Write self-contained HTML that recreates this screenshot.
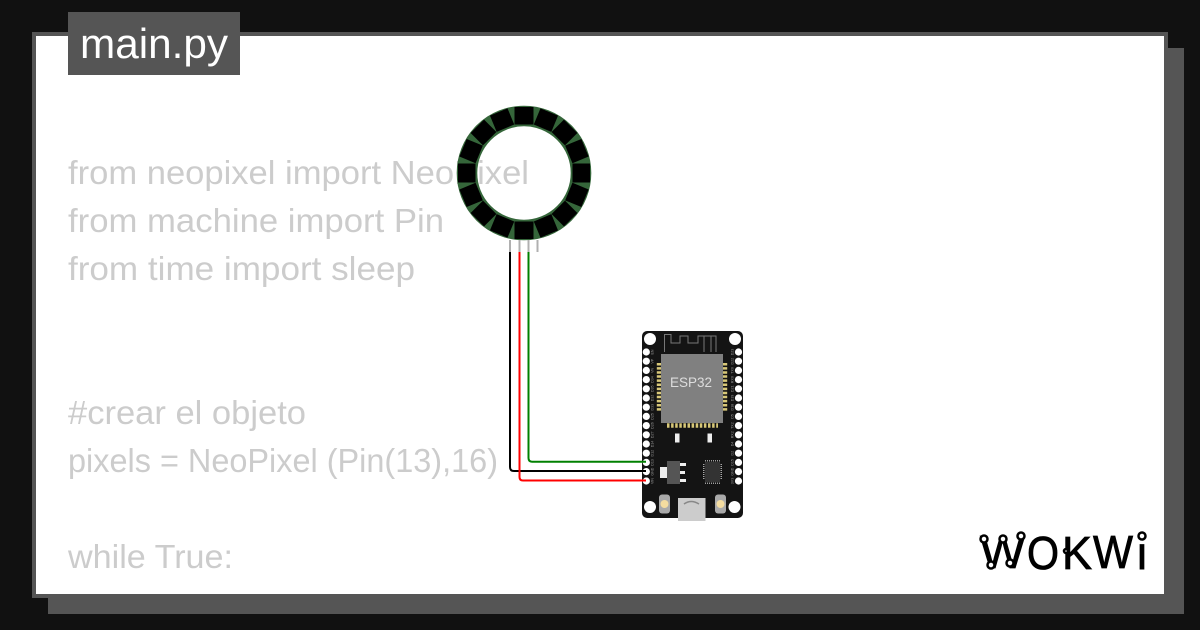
<!DOCTYPE html>
<html><head><meta charset="utf-8"><style>
html,body{margin:0;padding:0;background:#111;width:1200px;height:630px;overflow:hidden}
svg{display:block}
</style></head><body>
<svg width="1200" height="630" viewBox="0 0 1200 630" xmlns="http://www.w3.org/2000/svg" font-family="'Liberation Sans',sans-serif">
<rect width="1200" height="630" fill="#111"/>
<rect x="48" y="48" width="1136" height="566" fill="#555"/>
<rect x="34" y="34" width="1132" height="562" fill="#fff" stroke="#555" stroke-width="4"/>
<rect x="68" y="12" width="172" height="63" fill="#555"/>
<text x="80" y="58" font-size="42" fill="#fff" textLength="148" lengthAdjust="spacingAndGlyphs">main.py</text>
<g font-size="33.6" fill="#ccc">
<text x="68" y="184" textLength="461" lengthAdjust="spacingAndGlyphs">from neopixel import NeoPixel</text>
<text x="68" y="232" textLength="376" lengthAdjust="spacingAndGlyphs">from machine import Pin</text>
<text x="68" y="280" textLength="347" lengthAdjust="spacingAndGlyphs">from time import sleep</text>
<text x="68" y="424" textLength="238" lengthAdjust="spacingAndGlyphs">#crear el objeto</text>
<text x="68" y="472" textLength="430" lengthAdjust="spacingAndGlyphs">pixels = NeoPixel (Pin(13),16)</text>
<text x="68" y="568" textLength="165" lengthAdjust="spacingAndGlyphs">while True:</text>
</g>
<!-- ring -->
<circle cx="524" cy="173" r="57" fill="none" stroke="#35663a" stroke-width="20.6"/>
<g fill="#000">
<rect x="514.5" y="107" width="19" height="17.5" transform="rotate(0 524 173)"/>
<rect x="514.5" y="107" width="19" height="17.5" transform="rotate(22.5 524 173)"/>
<rect x="514.5" y="107" width="19" height="17.5" transform="rotate(45 524 173)"/>
<rect x="514.5" y="107" width="19" height="17.5" transform="rotate(67.5 524 173)"/>
<rect x="514.5" y="107" width="19" height="17.5" transform="rotate(90 524 173)"/>
<rect x="514.5" y="107" width="19" height="17.5" transform="rotate(112.5 524 173)"/>
<rect x="514.5" y="107" width="19" height="17.5" transform="rotate(135 524 173)"/>
<rect x="514.5" y="107" width="19" height="17.5" transform="rotate(157.5 524 173)"/>
<rect x="514.5" y="107" width="19" height="17.5" transform="rotate(180 524 173)"/>
<rect x="514.5" y="107" width="19" height="17.5" transform="rotate(202.5 524 173)"/>
<rect x="514.5" y="107" width="19" height="17.5" transform="rotate(225 524 173)"/>
<rect x="514.5" y="107" width="19" height="17.5" transform="rotate(247.5 524 173)"/>
<rect x="514.5" y="107" width="19" height="17.5" transform="rotate(270 524 173)"/>
<rect x="514.5" y="107" width="19" height="17.5" transform="rotate(292.5 524 173)"/>
<rect x="514.5" y="107" width="19" height="17.5" transform="rotate(315 524 173)"/>
<rect x="514.5" y="107" width="19" height="17.5" transform="rotate(337.5 524 173)"/>
</g>
<g stroke="#b0b0b0" stroke-width="2">
<path d="M510 240V252M519.5 240V252M528.5 240V252M537.5 240V252"/>
</g>
<!-- board -->
<rect x="642" y="331" width="101" height="187" rx="5" fill="#141414"/>
<path d="M664.5 352V334.5H671V343H680V336H688V343H698V336H704V352M704 336H711V352M711 336H716V352" fill="none" stroke="#777" stroke-width="1"/>
<g fill="#fff">
<circle cx="650" cy="339" r="6"/><circle cx="735" cy="339" r="6"/>
<circle cx="650" cy="507" r="6"/><circle cx="734.5" cy="507" r="6"/>
<circle cx="646.3" cy="352" r="3.6"/><circle cx="646.3" cy="361.2" r="3.6"/><circle cx="646.3" cy="370.4" r="3.6"/><circle cx="646.3" cy="379.6" r="3.6"/><circle cx="646.3" cy="388.8" r="3.6"/><circle cx="646.3" cy="398" r="3.6"/><circle cx="646.3" cy="407.2" r="3.6"/><circle cx="646.3" cy="416.4" r="3.6"/><circle cx="646.3" cy="425.6" r="3.6"/><circle cx="646.3" cy="434.8" r="3.6"/><circle cx="646.3" cy="444" r="3.6"/><circle cx="646.3" cy="453.2" r="3.6"/><circle cx="646.3" cy="462.4" r="3.6"/><circle cx="646.3" cy="471.6" r="3.6"/><circle cx="646.3" cy="481" r="3.6"/>
<circle cx="738.5" cy="352" r="3.6"/><circle cx="738.5" cy="361.2" r="3.6"/><circle cx="738.5" cy="370.4" r="3.6"/><circle cx="738.5" cy="379.6" r="3.6"/><circle cx="738.5" cy="388.8" r="3.6"/><circle cx="738.5" cy="398" r="3.6"/><circle cx="738.5" cy="407.2" r="3.6"/><circle cx="738.5" cy="416.4" r="3.6"/><circle cx="738.5" cy="425.6" r="3.6"/><circle cx="738.5" cy="434.8" r="3.6"/><circle cx="738.5" cy="444" r="3.6"/><circle cx="738.5" cy="453.2" r="3.6"/><circle cx="738.5" cy="462.4" r="3.6"/><circle cx="738.5" cy="471.6" r="3.6"/><circle cx="738.5" cy="481" r="3.6"/>
</g>
<g font-size="3.6" fill="#999" text-anchor="middle">
<text transform="translate(653.5 352) rotate(-90)">EN</text><text transform="translate(653.5 361.2) rotate(-90)">VP</text><text transform="translate(653.5 370.4) rotate(-90)">VN</text><text transform="translate(653.5 379.6) rotate(-90)">D34</text><text transform="translate(653.5 388.8) rotate(-90)">D35</text><text transform="translate(653.5 398) rotate(-90)">D32</text><text transform="translate(653.5 407.2) rotate(-90)">D33</text><text transform="translate(653.5 416.4) rotate(-90)">D25</text><text transform="translate(653.5 425.6) rotate(-90)">D26</text><text transform="translate(653.5 434.8) rotate(-90)">D27</text><text transform="translate(653.5 444) rotate(-90)">D14</text><text transform="translate(653.5 453.2) rotate(-90)">D12</text><text transform="translate(653.5 462.4) rotate(-90)">D13</text><text transform="translate(653.5 471.6) rotate(-90)">GND</text><text transform="translate(653.5 481) rotate(-90)">VIN</text>
<text transform="translate(733.5 352) rotate(-90)">D23</text><text transform="translate(733.5 361.2) rotate(-90)">D22</text><text transform="translate(733.5 370.4) rotate(-90)">TX0</text><text transform="translate(733.5 379.6) rotate(-90)">RX0</text><text transform="translate(733.5 388.8) rotate(-90)">D21</text><text transform="translate(733.5 398) rotate(-90)">D19</text><text transform="translate(733.5 407.2) rotate(-90)">D18</text><text transform="translate(733.5 416.4) rotate(-90)">D5</text><text transform="translate(733.5 425.6) rotate(-90)">TX2</text><text transform="translate(733.5 434.8) rotate(-90)">RX2</text><text transform="translate(733.5 444) rotate(-90)">D4</text><text transform="translate(733.5 453.2) rotate(-90)">D2</text><text transform="translate(733.5 462.4) rotate(-90)">D15</text><text transform="translate(733.5 471.6) rotate(-90)">GND</text><text transform="translate(733.5 481) rotate(-90)">3V3</text>
</g>
<path d="M659 363V412" stroke="#d8c878" stroke-width="4.4" stroke-dasharray="2.5 1.6"/>
<path d="M725 363V412" stroke="#d8c878" stroke-width="4.4" stroke-dasharray="2.5 1.6"/>
<path d="M667 425.5H718" stroke="#d8c878" stroke-width="4.4" stroke-dasharray="2.5 1.6"/>
<rect x="661" y="354" width="62" height="69" fill="#808080"/>
<text x="691" y="387" font-size="13.5" fill="#ddd" text-anchor="middle">ESP32</text>
<rect x="675" y="433.5" width="4.5" height="9" fill="#eee"/>
<rect x="707.5" y="433.5" width="4.5" height="9" fill="#eee"/>
<rect x="660" y="467" width="7" height="11" fill="#eee"/>
<rect x="667" y="461" width="13" height="23" fill="#555"/>
<rect x="680" y="463" width="6" height="3" fill="#eee"/><rect x="680" y="471" width="5" height="3" fill="#eee"/><rect x="680" y="479" width="6" height="3" fill="#eee"/>
<rect x="705" y="462" width="15" height="20" fill="#333"/>
<path d="M705 460.8H720M705 483.2H720M703.8 464V480M721.2 464V480" stroke="#ccc" stroke-width="1.2" stroke-dasharray="1 1"/>
<rect x="678" y="498" width="27.5" height="23" fill="#ccc"/>
<path d="M684 504Q691 499 699 504" fill="none" stroke="#888" stroke-width="1.5"/>
<rect x="659" y="494.5" width="11" height="19" rx="3" fill="#aaa"/>
<rect x="715" y="494.5" width="11" height="19" rx="3" fill="#aaa"/>
<circle cx="664.5" cy="504" r="4" fill="#f4dca0"/>
<circle cx="720.5" cy="504" r="4" fill="#f4dca0"/>
<!-- wires -->
<g fill="none" stroke-width="2">
<path d="M528.5 252V458Q528.5 461.7 532 461.7H646" stroke="#008000"/>
<path d="M510 252V467Q510 471 514 471H646" stroke="#000"/>
<path d="M519.5 252V477Q519.5 480.5 523 480.5H646" stroke="#f00"/>
</g>
<!-- logo -->
<g font-size="46" fill="#000" stroke="#000" stroke-width="0.8">
<text x="980" y="568" textLength="45" lengthAdjust="spacingAndGlyphs">W</text>
<text x="1027" y="569" textLength="32" lengthAdjust="spacingAndGlyphs">O</text>
<text x="1062" y="569" textLength="30" lengthAdjust="spacingAndGlyphs">K</text>
<text x="1093" y="568" textLength="40" lengthAdjust="spacingAndGlyphs">W</text>
<text x="1137" y="569" textLength="10" lengthAdjust="spacingAndGlyphs">i</text>
</g>
<g fill="#fff" stroke="#000" stroke-width="2.5">
<circle cx="984" cy="539" r="3.5"/><circle cx="1003" cy="539" r="3.5"/><circle cx="1021" cy="536" r="3.5"/>
<circle cx="991" cy="565" r="3.5"/><circle cx="1010" cy="563" r="3.5"/><circle cx="1066" cy="551" r="2"/><circle cx="1142" cy="536" r="3.5"/>
</g>
</svg>
</body></html>
